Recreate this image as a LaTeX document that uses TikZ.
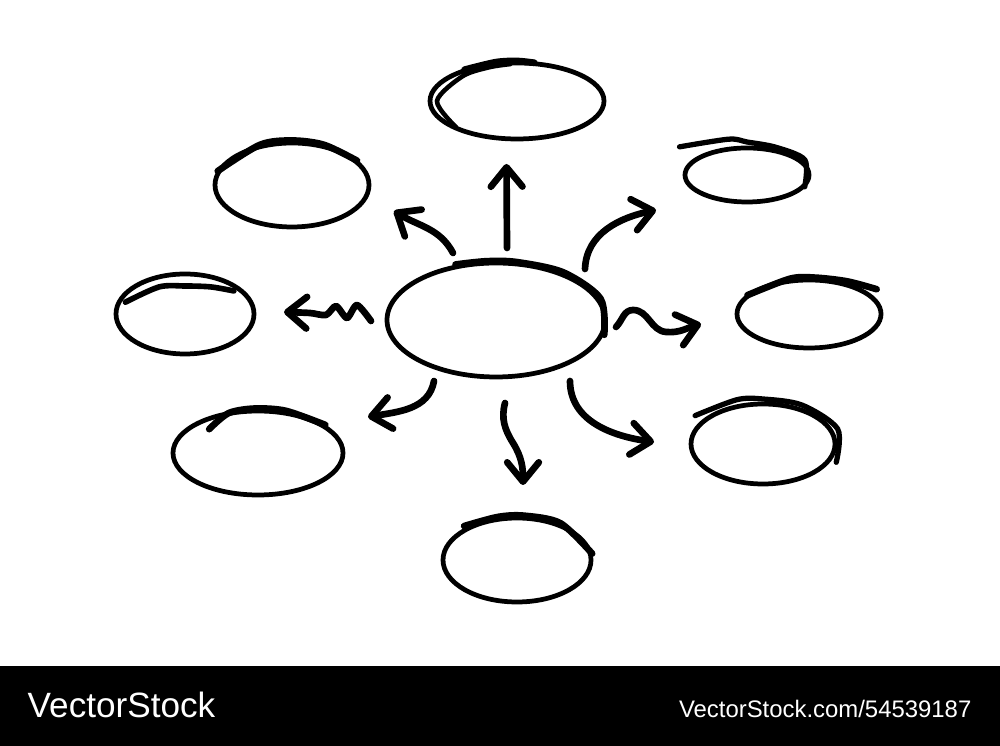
\documentclass[tikz,border=0pt]{standalone}
\usepackage{fontspec}
\newfontfamily\stockfont{Liberation Sans}
\usetikzlibrary{arrows.meta, shapes.geometric, positioning}

\begin{document}
\begin{tikzpicture}[
	bubble/.style={draw, ellipse, line width=1.35pt, inner sep=0pt, outer sep=0pt},
	over/.style={line width=1.9pt, line cap=round},
	arr/.style={line width=1.9pt, line cap=round, line join=round, -{Straight Barb[length=5.5pt, width=9pt, round]}}]

	\useasboundingbox (0,0) rectangle (10,-7.46);

	\node[bubble, minimum width=2.18cm, minimum height=1.14cm] (hub) at (4.96,-3.20) {};
	\node[bubble, minimum width=1.74cm, minimum height=0.76cm, above=1.24cm of hub, xshift=2.1mm] (up) {};
	\node[bubble, minimum width=1.54cm, minimum height=0.84cm, above=0.36cm of hub, xshift=-20.4mm] (upl) {};
	\node[bubble, minimum width=1.24cm, minimum height=0.54cm, above=0.61cm of hub, xshift=25.1mm] (upr) {};

	\node[bubble, minimum width=1.38cm, minimum height=0.80cm, left=1.33cm of hub, yshift=0.6mm] (lft) {};
	\node[bubble, minimum width=1.44cm, minimum height=0.68cm, right=1.32cm of hub, yshift=0.6mm] (rgt) {};

	\node[bubble, minimum width=1.70cm, minimum height=0.84cm, below=0.34cm of hub, xshift=-23.8mm] (dnl) {};
	\node[bubble, minimum width=1.44cm, minimum height=0.80cm, below=0.27cm of hub, xshift=26.7mm] (dnr) {};
	\node[bubble, minimum width=1.48cm, minimum height=0.84cm, below=1.41cm of hub, xshift=2.1mm] (dn) {};

	% second pen strokes on the rims
	\draw[over] plot[smooth] coordinates {([shift={(-0.3mm,0.2mm)}]hub.125) ([yshift=.2mm]hub.100) ([yshift=.2mm]hub.70) ([shift={(.2mm,.2mm)}]hub.35) ([xshift=.35mm]hub.12) ([xshift=.3mm]hub.-8)};
	\draw[over, line width=1.3pt] plot[smooth] coordinates {([shift={(.6mm,-.2mm)}]up.200) ([xshift=.7mm]up.180) ([shift={(.5mm,-.3mm)}]up.155) ([shift={(.2mm,-.2mm)}]up.130) ([yshift=-.1mm]up.100)};
	\draw[over] plot[smooth] coordinates {([yshift=.1mm]up.150) ([yshift=.2mm]up.120) ([yshift=.2mm]up.90) ([yshift=.1mm]up.65)};
	\draw[over] plot[smooth] coordinates {([shift={(-.1mm,.1mm)}]upl.170) ([yshift=.2mm]upl.130) ([yshift=.25mm]upl.90) ([yshift=.2mm]upl.50) ([shift={(.1mm,.1mm)}]upl.20)};
	\draw[over, line width=1.5pt] plot[smooth] coordinates {([shift={(-1mm,1.8mm)}]upr.170) ([yshift=1mm]upr.125) ([yshift=.6mm]upr.90) ([shift={(.4mm,.3mm)}]upr.45) ([shift={(.5mm,.1mm)}]upr.15) ([xshift=.2mm]upr.-12)};
	\draw[over, line width=1.6pt] plot[smooth] coordinates {([shift={(.3mm,-.5mm)}]lft.165) ([yshift=-1mm]lft.125) ([yshift=-1.2mm]lft.90) ([yshift=-1mm]lft.55) ([shift={(-.2mm,-.4mm)}]lft.28)};
	\draw[over] plot[smooth] coordinates {([shift={(.1mm,.2mm)}]rgt.165) ([yshift=.25mm]rgt.120) ([yshift=.25mm]rgt.80) ([shift={(.3mm,.3mm)}]rgt.40) ([shift={(.5mm,.8mm)}]rgt.15)};
	\draw[over] plot[smooth] coordinates {([shift={(1.3mm,-.5mm)}]dnl.155) ([shift={(.3mm,.1mm)}]dnl.130) ([yshift=.25mm]dnl.95) ([yshift=.25mm]dnl.55) ([shift={(.15mm,.15mm)}]dnl.22)};
	\draw[over, line width=1.5pt] plot[smooth] coordinates {([shift={(-.3mm,1.1mm)}]dnr.165) ([yshift=.7mm]dnr.125) ([yshift=.5mm]dnr.90) ([shift={(.4mm,.4mm)}]dnr.45) ([shift={(.6mm,.3mm)}]dnr.10) ([shift={(.6mm,-.4mm)}]dnr.-12)};
	\draw[over] plot[smooth] coordinates {([shift={(-.1mm,.4mm)}]dn.150) ([yshift=.25mm]dn.115) ([yshift=.25mm]dn.80) ([shift={(.2mm,.2mm)}]dn.40) ([xshift=.2mm]dn.5)};

	% arrow ends
	\coordinate (s1) at (5.07,-2.48); \coordinate (t1) at (5.065,-1.64);
	\coordinate (s2) at (4.53,-2.53); \coordinate (t2) at (3.94,-2.11);
	\coordinate (s3) at (5.85,-2.69); \coordinate (t3) at (6.56,-2.10);
	\coordinate (s4) at (3.71,-3.21); \coordinate (t4) at (2.84,-3.12);
	\coordinate (s5) at (6.16,-3.27); \coordinate (t5) at (7.01,-3.24);
	\coordinate (s6) at (4.34,-3.81); \coordinate (t6) at (3.68,-4.17);
	\coordinate (s7) at (5.05,-4.03); \coordinate (t7) at (5.23,-4.85);
	\coordinate (s8) at (5.70,-3.81); \coordinate (t8) at (6.54,-4.42);

	\draw[arr] (s1) -- (t1);
	\draw[arr] (s2) to[out=118, in=-32] (t2);
	\draw[arr] (s3) to[out=88, in=-168] (t3);
	\draw[arr] plot[smooth, tension=0.45] coordinates {(s4) (3.57,-3.05) (3.47,-3.18) (3.36,-3.06) (3.26,-3.15) (3.10,-3.13) (t4)};
	\draw[arr] (s5) to[out=45, in=180] (6.33,-3.10) to[out=0, in=175] (6.66,-3.32) to[out=-5, in=-165] (t5);
	\draw[arr] (s6) to[out=-100, in=10] (t6);
	\draw[arr] (s7) to[out=-105, in=122] (5.13,-4.43) to[out=-58, in=90] (t7);
	\draw[arr] (s8) to[out=-90, in=172] (t8);

	% stock strip
	\fill (0,-6.66) rectangle (10,-7.46);
	\node[anchor=base west, inner sep=0pt, text=white, font=\stockfont\fontsize{10}{12}\selectfont] (brand) at (0.27,-7.17) {VectorStock};
	\node[anchor=base east, inner sep=0pt, text=white, font=\stockfont\fontsize{6.8}{8}\selectfont] (link) at (9.72,-7.17) {VectorStock.com/54539187};
\end{tikzpicture}
\end{document}
